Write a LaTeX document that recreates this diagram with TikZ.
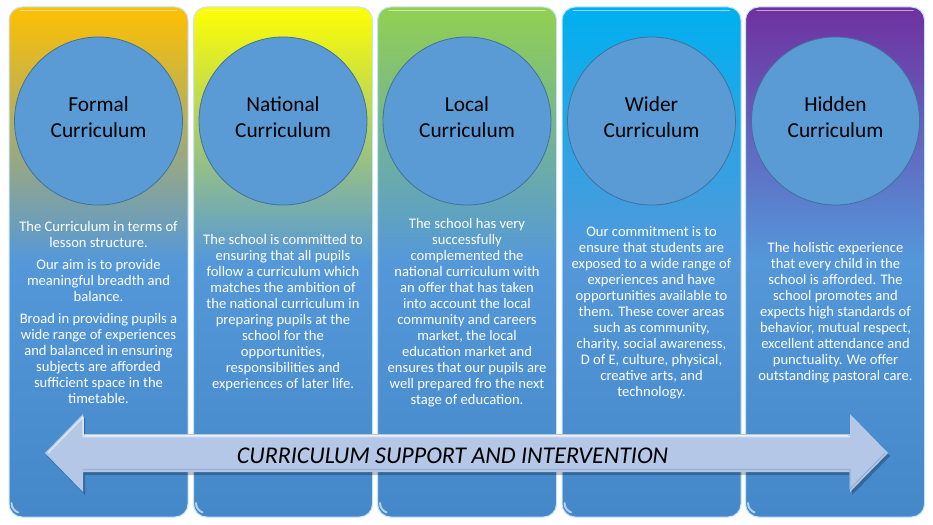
\documentclass[tikz,border=0pt]{standalone}
\usepackage{fontspec}
\setmainfont{Carlito}
\definecolor{cA}{HTML}{FFC000}
\definecolor{cB}{HTML}{FFFF00}
\definecolor{cC}{HTML}{92D050}
\definecolor{cD}{HTML}{00B0F0}
\definecolor{cE}{HTML}{7030A0}
\definecolor{midblue}{HTML}{5498DA}
\definecolor{lowblue}{HTML}{4488CA}
\definecolor{circfill}{HTML}{5B9BD5}
\definecolor{circline}{HTML}{41719C}
\definecolor{arrowfill}{HTML}{B4C7E7}
\definecolor{arrowlight}{HTML}{DCE6F4}
\definecolor{arrowdark}{HTML}{98B1D8}
\definecolor{edgecol}{HTML}{C5E4F7}
\tikzset{
  circ/.style={circle, fill=circfill, draw=circline, line width=0.8pt, minimum size=168pt, inner sep=0pt},
  circlabel/.style={align=center, inner sep=0pt, text=black, font=\fontsize{21.33}{25.5}\selectfont},
  bodytext/.style={align=center, inner sep=0pt, text=white, font=\fontsize{14.6}{16}\selectfont},
  arrowtext/.style={inner sep=0pt, text=black, font=\fontsize{24}{28}\selectfont\itshape},
  coledge/.style={draw=edgecol, line width=1pt, rounded corners=13pt},
  gloss/.style={draw=white, opacity=0.55, line width=1.5pt, line cap=round}
}
\newcommand\curcol[2]{%
  \begin{scope}
    \clip[rounded corners=13pt] (#1-89.5,7) rectangle (#1+89.5,517);
    \shade[top color=#2, bottom color=midblue] (#1-90,6) rectangle (#1+90,262);
    \shade[top color=midblue, bottom color=lowblue] (#1-90,261.5) rectangle (#1+90,518);
  \end{scope}
  \draw[coledge] (#1-89.5,7) rectangle (#1+89.5,517);
  \draw[gloss] (#1-78,10.5) -- (#1+78,10.5);
  \draw[draw=white, opacity=0.6, line width=2pt, line cap=round] (#1-87,503) arc[start angle=180, end angle=110, radius=10];
}
\begin{document}
\begin{tikzpicture}[x=1pt, y=-1pt]
\useasboundingbox[fill=white] (0,0) rectangle (933,524);

\curcol{98.5}{cA}
\curcol{283}{cB}
\curcol{467}{cC}
\curcol{651.5}{cD}
\curcol{835}{cE}

\node[circ] (k1) at (98.5,121) {};
\node[circ] (k2) at (283,121) {};
\node[circ] (k3) at (467,121) {};
\node[circ] (k4) at (651.5,121) {};
\node[circ] (k5) at (835.5,121) {};

\node[circlabel] (l1) at (98.5,117) {Formal\\Curriculum};
\node[circlabel] (l2) at (283,117) {National\\Curriculum};
\node[circlabel] (l3) at (467,117) {Local\\Curriculum};
\node[circlabel] (l4) at (651.5,117) {Wider\\Curriculum};
\node[circlabel] (l5) at (835.5,117) {Hidden\\Curriculum};

\node[bodytext] (t1) at (98.5,312.5) {The Curriculum in terms of\\lesson structure.\\[6pt]Our aim is to provide\\meaningful breadth and\\balance.\\[6pt]Broad in providing pupils a\\wide range of experiences\\and balanced in ensuring\\subjects are afforded\\sufficient space in the\\timetable.};
\node[bodytext] (t2) at (283,312.5) {The school is committed to\\ensuring that all pupils\\follow a curriculum which\\matches the ambition of\\the national curriculum in\\preparing pupils at the\\school for the\\opportunities,\\responsibilities and\\experiences of later life.};
\node[bodytext] (t3) at (467,312.5) {The school has very\\successfully\\complemented the\\national curriculum with\\an offer that has taken\\into account the local\\community and careers\\market, the local\\education market and\\ensures that our pupils are\\well prepared fro the next\\stage of education.};
\node[bodytext] (t4) at (651.5,312.5) {Our commitment is to\\ensure that students are\\exposed to a wide range of\\experiences and have\\opportunities available to\\them. These cover areas\\such as community,\\charity, social awareness,\\D of E, culture, physical,\\creative arts, and\\technology.};
\node[bodytext] (t5) at (835.5,312.5) {The holistic experience\\that every child in the\\school is afforded. The\\school promotes and\\expects high standards of\\behavior, mutual respect,\\excellent attendance and\\punctuality. We offer\\outstanding pastoral care.};

% double-headed arrow
\coordinate (aL) at (45,453);
\coordinate (aR) at (888,453);
\fill[black, opacity=0.25] ([shift={(2,3)}]aL) -- ++(38,-39) -- ++(0,20) -- ++(767,0) -- ++(0,-20) -- ++(38,39) -- ++(-38,39) -- ++(0,-20) -- ++(-767,0) -- ++(0,20) -- cycle;
\fill[arrowfill] (aL) -- ++(38,-39) -- ++(0,20) -- ++(767,0) -- ++(0,-20) -- (aR) -- ++(-38,39) -- ++(0,-20) -- ++(-767,0) -- ++(0,20) -- cycle;
\draw[arrowdark, line width=1.2pt, line join=round] ([xshift=-3]aR) -- ++(-35,36) -- ++(0,-19.5) -- ++(-767,0);
\draw[arrowlight, line width=1.5pt, line join=round] ([xshift=3]aL) -- ++(35,-36) -- ++(0,19.5) -- ++(767,0);
\draw[white, opacity=0.7, line width=1.5pt] (85,435.5) -- (848,435.5);
\node[arrowtext] (at) at (452.5,456) {CURRICULUM SUPPORT AND INTERVENTION};
\end{tikzpicture}
\end{document}
